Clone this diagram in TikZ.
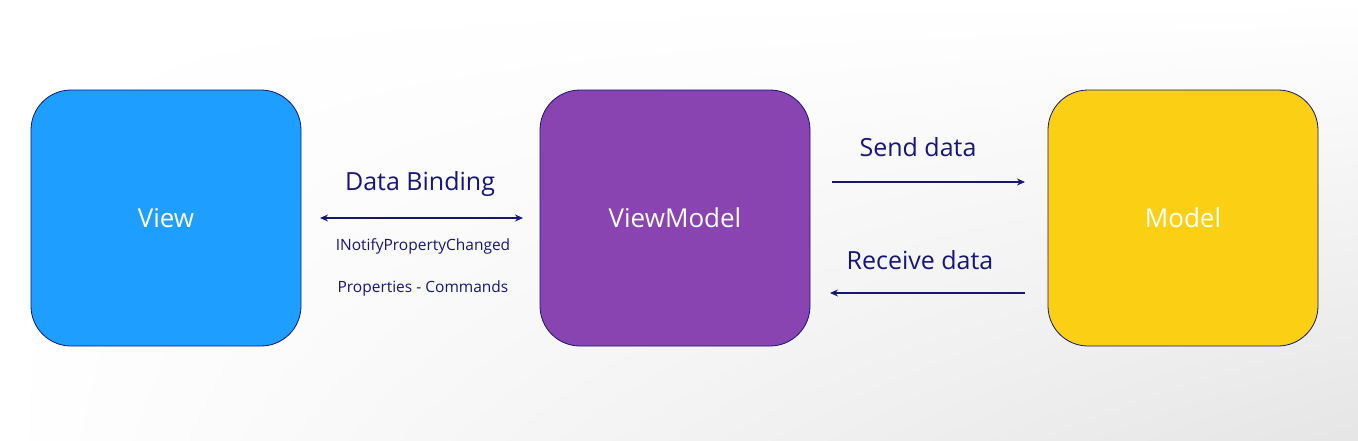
\documentclass[tikz,border=0pt]{standalone}
\usepackage{fontspec}
\setmainfont{Open Sans}
\usetikzlibrary{arrows.meta,shadings}
\definecolor{navy}{HTML}{16167A}
\definecolor{cview}{HTML}{1E9EFF}
\definecolor{cvm}{HTML}{8A44B2}
\definecolor{cmodel}{HTML}{FACF14}
\begin{document}
\begin{tikzpicture}[x=1pt,y=-1pt,
  box/.style={draw=navy,line width=0.8pt,rounded corners=40pt,minimum width=270pt,minimum height=256pt,text=white,font=\fontsize{26}{30}\selectfont},
  lab/.style={text=navy,font=\fontsize{25}{28}\selectfont},
  small/.style={text=navy,font=\fontsize{15.5}{18}\selectfont},
  arr/.style={draw=navy,line width=1.2pt,-{Stealth[length=8pt,width=7pt]}}]
\useasboundingbox (0,0) rectangle (1358,440);
\shade[upper left=white,upper right=white,lower left=white,lower right=black!10] (0,0) rectangle (1358,440);
\node[box,fill=cview] (view) at (166,218) {View};
\node[box,fill=cvm] (vm) at (675,218) {ViewModel};
\node[box,fill=cmodel] (model) at (1183,218) {Model};
\coordinate (b1) at (320,218); \coordinate (b2) at (523,218);
\draw[arr,{Stealth[length=8pt,width=7pt]}-{Stealth[length=8pt,width=7pt]}] (b1) -- (b2);
\node[lab] (db) at (420,184) {Data Binding};
\node[small] (inp) at (423,246) {INotifyPropertyChanged};
\node[small] (pc) at (423,288) {Properties - Commands};
\coordinate (s1) at (832,182); \coordinate (s2) at (1025,182);
\draw[arr] (s1) -- (s2);
\node[lab] (sd) at (918,147) {Send data};
\coordinate (r1) at (1025,293); \coordinate (r2) at (830,293);
\draw[arr] (r1) -- (r2);
\node[lab] (rd) at (920,260) {Receive data};
\end{tikzpicture}
\end{document}
